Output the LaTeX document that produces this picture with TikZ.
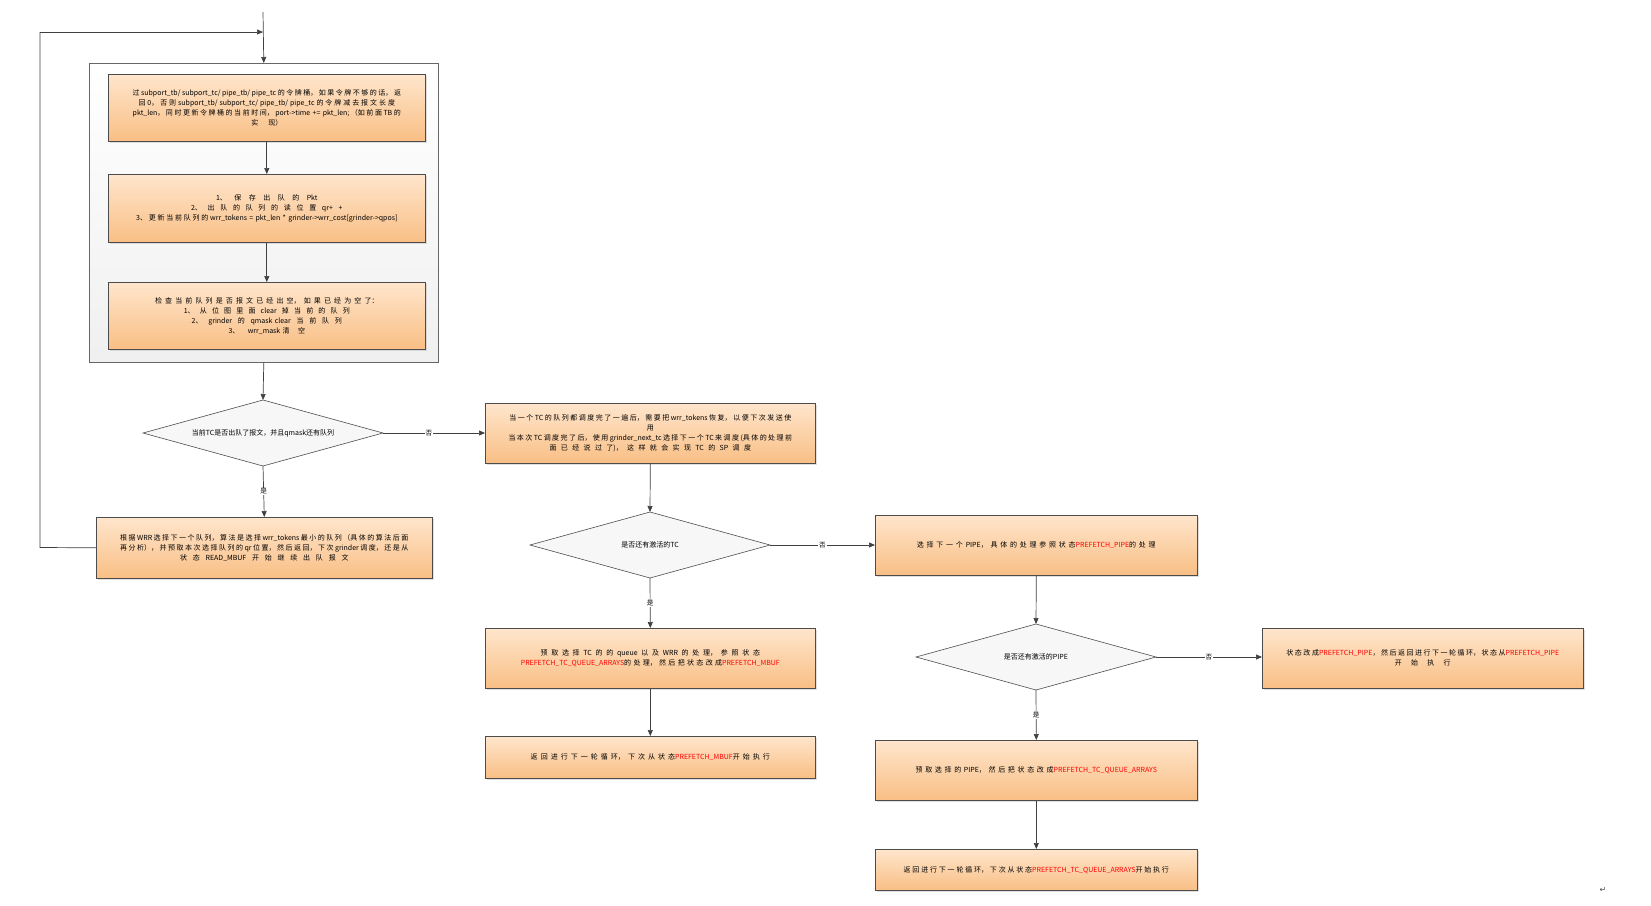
\documentclass[tikz,border=0pt]{standalone}
\usepackage{fontspec}
\setmainfont{Noto Sans CJK SC}
\newfontfamily\dejavu{DejaVu Sans}
\XeTeXlinebreaklocale "zh"
\XeTeXlinebreakskip=0pt plus 1pt
\usetikzlibrary{shadows,arrows.meta}
\newcommand{\rd}[1]{\textcolor{red}{#1}}
\begin{document}
\begin{tikzpicture}[x=1pt,y=-1pt,
  font=\fontsize{7}{10}\selectfont,
  box/.style={draw=black!70,line width=0.6pt,top color=orange!20!white,bottom color=orange!45!white!90!brown,
    align=center,inner sep=2pt,drop shadow={shadow xshift=1.5pt,shadow yshift=-1.5pt,fill=black!25}},
  dia/.style={draw=black!70,line width=0.6pt,fill=black!3},
  ar/.style={draw=black!75,line width=0.7pt,-{Triangle[length=6pt,width=5pt]}},
  ln/.style={draw=black!75,line width=0.7pt},
  lab/.style={fill=white,inner sep=1pt,font=\fontsize{6.6}{8}\selectfont}]
\useasboundingbox (0,0) rectangle (1651,905);
% container
\node[draw=black!60,line width=0.6pt,top color=white,bottom color=black!6,minimum width=349,minimum height=299,anchor=north west,inner sep=0] (cont) at (89,63) {};
\newcommand{\bx}[6]{\pgfmathsetmacro\bw{#3-#1}\pgfmathsetmacro\bh{#4-#2}\pgfmathsetmacro\tw{#3-#1-6}%
  \node[box,minimum width=\bw pt,minimum height=\bh pt,text width=\tw pt,anchor=north west] (#5) at (#1,#2) {#6};}
\bx{108}{74}{425}{141}{b1}{过subport\_tb/subport\_tc/pipe\_tb/pipe\_tc的令牌桶，如果令牌不够的话，返\\回0，否则subport\_tb/subport\_tc/pipe\_tb/pipe\_tc的令牌减去报文长度\\pkt\_len，同时更新令牌桶的当前时间，port->time += pkt\_len;（如前面TB的\\实现）}
\bx{108}{174}{425}{242}{b2}{1、保存出队的Pkt\\2、出队的队列的读位置qr++\\3、更新当前队列的wrr\_tokens = pkt\_len * grinder->wrr\_cost[grinder->qpos]}
\bx{108}{282}{425}{349}{b3}{检查当前队列是否报文已经出空，如果已经为空了：\\1、从位图里面clear掉当前的队列\\2、grinder的qmask clear当前队列\\3、wrr\_mask 清空}
\bx{96}{517}{432}{578}{b5}{根据WRR选择下一个队列，算法是选择wrr\_tokens最小的队列（具体的算法后面\\再分析），并预取本次选择队列的qr位置，然后返回，下次grinder调度，还是从\\状态READ\_MBUF开始继续出队报文}
\bx{485}{403}{815}{463}{b4}{当一个TC的队列都调度完了一遍后，需要把wrr\_tokens恢复，以便下次发送使\\用\\当本次TC调度完了后，使用grinder\_next\_tc选择下一个TC来调度(具体的处理前\\面已经说过了)，这样就会实现TC的SP调度}
\bx{485}{628}{815}{688}{b7}{预取选择TC的的queue以及WRR的处理，参照状态\\\rd{PREFETCH\_TC\_QUEUE\_ARRAYS}的处理，然后把状态改成\rd{PREFETCH\_MBUF}}
\bx{485}{736}{815}{778}{b8}{返回进行下一轮循环，下次从状态\rd{PREFETCH\_MBUF}开始执行}
\bx{875}{515}{1197}{575}{b6}{选择下一个PIPE，具体的处理参照状态\rd{PREFETCH\_PIPE}的处理}
\bx{1262}{628}{1583}{688}{b9}{状态改成\rd{PREFETCH\_PIPE}，然后返回进行下一轮循环，状态从\rd{PREFETCH\_PIPE}\\开始执行}
\bx{875}{740}{1197}{800}{b10}{预取选择的PIPE，然后把状态改成\rd{PREFETCH\_TC\_QUEUE\_ARRAYS}}
\bx{875}{849}{1197}{890}{b11}{返回进行下一轮循环，下次从状态\rd{PREFETCH\_TC\_QUEUE\_ARRAYS}开始执行}
% diamonds
\newcommand{\dm}[4]{\draw[dia] (#1-120,#2) coordinate (#3w) -- (#1,#2-33) coordinate (#3n) -- (#1+120,#2) coordinate (#3e) -- (#1,#2+33) coordinate (#3s) -- cycle; \node (#3) at (#1,#2) {#4};}
\dm{263}{433}{d1}{当前TC是否出队了报文，并且qmask还有队列}
\dm{650}{545}{d2}{是否还有激活的TC}
\dm{1036}{657}{d3}{是否还有激活的PIPE}
% connectors
\coordinate (top) at (263,12);
\coordinate (lp1) at (40,547.5);
\coordinate (lp2) at (40,32);
\coordinate (lp3) at (263,32);
\draw[ar] (top) -- (cont.north);
\draw[ln] (b5.west) -- (lp1) -- (lp2);
\draw[ar] (lp2) -- (lp3);
\draw[ar] (b1) -- (b2);
\draw[ar] (b2) -- (b3);
\draw[ar] (cont.south) -- (d1n);
\draw[ar] (d1e) -- node[lab,pos=0.45]{否} (b4.west |- d1e);
\draw[ar] (d1s) -- node[lab]{是} (b5.north);
\draw[ar] (b4.south) -- (d2n);
\draw[ar] (d2e) -- node[lab,pos=0.5]{否} (b6.west |- d2e);
\draw[ar] (d2s) -- node[lab]{是} (b7.north);
\draw[ar] (b7) -- (b8);
\draw[ar] (b6.south) -- (d3n);
\draw[ar] (d3e) -- node[lab,pos=0.5]{否} (b9.west |- d3e);
\draw[ar] (d3s) -- node[lab]{是} (b10.north);
\draw[ar] (b10) -- (b11);
\node[font=\dejavu\fontsize{8}{8}\selectfont,text=black!70] (rt) at (1603,890) {↵};
\end{tikzpicture}
\end{document}
